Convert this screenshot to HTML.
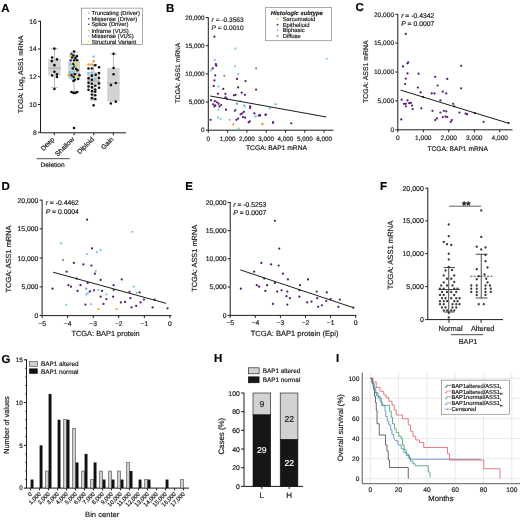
<!DOCTYPE html>
<html><head><meta charset="utf-8"><title>Figure</title>
<style>
html,body{margin:0;padding:0;background:#fff;}
svg{display:block;font-family:"Liberation Sans",Arial,sans-serif;}
text{stroke:#222;stroke-width:0.18px;paint-order:stroke fill;}
text.w{stroke:#fff;}
</style></head><body>
<svg width="520" height="520" viewBox="0 0 520 520" text-rendering="geometricPrecision">
<rect width="520" height="520" fill="#ffffff"/>
<text x="1.20" y="12.00" font-size="11.5" text-anchor="start" font-weight="bold" font-style="normal" fill="#000" >A</text>
<line x1="40.50" y1="20.80" x2="40.50" y2="132.80" stroke="#1c1c1c" stroke-width="1.0" />
<line x1="40.50" y1="132.80" x2="126.00" y2="132.80" stroke="#1c1c1c" stroke-width="1.0" />
<line x1="38.00" y1="21.25" x2="40.50" y2="21.25" stroke="#1c1c1c" stroke-width="1.0" />
<text x="36.80" y="23.65" font-size="6.7" text-anchor="end" font-weight="normal" font-style="normal" fill="#1a1a1a" >16</text>
<line x1="38.00" y1="49.00" x2="40.50" y2="49.00" stroke="#1c1c1c" stroke-width="1.0" />
<text x="36.80" y="51.40" font-size="6.7" text-anchor="end" font-weight="normal" font-style="normal" fill="#1a1a1a" >14</text>
<line x1="38.00" y1="76.75" x2="40.50" y2="76.75" stroke="#1c1c1c" stroke-width="1.0" />
<text x="36.80" y="79.15" font-size="6.7" text-anchor="end" font-weight="normal" font-style="normal" fill="#1a1a1a" >12</text>
<line x1="38.00" y1="104.50" x2="40.50" y2="104.50" stroke="#1c1c1c" stroke-width="1.0" />
<text x="36.80" y="106.90" font-size="6.7" text-anchor="end" font-weight="normal" font-style="normal" fill="#1a1a1a" >10</text>
<line x1="38.00" y1="132.30" x2="40.50" y2="132.30" stroke="#1c1c1c" stroke-width="1.0" />
<text x="36.80" y="134.70" font-size="6.7" text-anchor="end" font-weight="normal" font-style="normal" fill="#1a1a1a" >8</text>
<line x1="54.30" y1="132.80" x2="54.30" y2="135.30" stroke="#1c1c1c" stroke-width="1.0" />
<text x="54.90" y="139.80" font-size="6.8" text-anchor="end" font-weight="normal" font-style="normal" fill="#1a1a1a" transform="rotate(-45 54.90 139.80)" >Deep</text>
<line x1="74.10" y1="132.80" x2="74.10" y2="135.30" stroke="#1c1c1c" stroke-width="1.0" />
<text x="74.70" y="139.80" font-size="6.8" text-anchor="end" font-weight="normal" font-style="normal" fill="#1a1a1a" transform="rotate(-45 74.70 139.80)" >Shallow</text>
<line x1="93.80" y1="132.80" x2="93.80" y2="135.30" stroke="#1c1c1c" stroke-width="1.0" />
<text x="94.40" y="139.80" font-size="6.8" text-anchor="end" font-weight="normal" font-style="normal" fill="#1a1a1a" transform="rotate(-45 94.40 139.80)" >Diploid</text>
<line x1="113.40" y1="132.80" x2="113.40" y2="135.30" stroke="#1c1c1c" stroke-width="1.0" />
<text x="114.00" y="139.80" font-size="6.8" text-anchor="end" font-weight="normal" font-style="normal" fill="#1a1a1a" transform="rotate(-45 114.00 139.80)" >Gain</text>
<text font-size="6.8" fill="#1a1a1a" text-anchor="middle" transform="translate(23.2 74.5) rotate(-90)">TCGA: Log<tspan font-size="4.6" dy="1.6">2</tspan><tspan dy="-1.6"> ASS1 mRNA</tspan></text>
<line x1="36.60" y1="158.70" x2="69.80" y2="158.70" stroke="#1c1c1c" stroke-width="0.8" />
<text x="52.60" y="167.20" font-size="6.6" text-anchor="middle" font-weight="normal" font-style="normal" fill="#1a1a1a" >Deletion</text>
<line x1="54.50" y1="48.70" x2="54.50" y2="87.60" stroke="#8c8c8c" stroke-width="0.6" />
<line x1="51.00" y1="48.70" x2="58.00" y2="48.70" stroke="#8c8c8c" stroke-width="0.6" />
<line x1="51.00" y1="87.60" x2="58.00" y2="87.60" stroke="#8c8c8c" stroke-width="0.6" />
<rect x="48.20" y="59.00" width="12.60" height="16.50" fill="#d3d3d3" stroke="none" stroke-width="0.5"/>
<line x1="48.20" y1="68.20" x2="60.80" y2="68.20" stroke="#8c8c8c" stroke-width="0.6" />
<line x1="74.10" y1="52.00" x2="74.10" y2="92.00" stroke="#8c8c8c" stroke-width="0.6" />
<line x1="70.60" y1="52.00" x2="77.60" y2="52.00" stroke="#8c8c8c" stroke-width="0.6" />
<line x1="70.60" y1="92.00" x2="77.60" y2="92.00" stroke="#8c8c8c" stroke-width="0.6" />
<rect x="68.20" y="61.30" width="11.80" height="17.70" fill="#d3d3d3" stroke="none" stroke-width="0.5"/>
<line x1="68.20" y1="73.50" x2="80.00" y2="73.50" stroke="#8c8c8c" stroke-width="0.6" />
<line x1="93.60" y1="64.50" x2="93.60" y2="100.00" stroke="#8c8c8c" stroke-width="0.6" />
<line x1="90.10" y1="64.50" x2="97.10" y2="64.50" stroke="#8c8c8c" stroke-width="0.6" />
<line x1="90.10" y1="100.00" x2="97.10" y2="100.00" stroke="#8c8c8c" stroke-width="0.6" />
<rect x="87.40" y="72.00" width="12.40" height="13.80" fill="#d3d3d3" stroke="none" stroke-width="0.5"/>
<line x1="87.40" y1="81.10" x2="99.80" y2="81.10" stroke="#8c8c8c" stroke-width="0.6" />
<line x1="113.40" y1="53.90" x2="113.40" y2="101.20" stroke="#8c8c8c" stroke-width="0.6" />
<line x1="109.90" y1="53.90" x2="116.90" y2="53.90" stroke="#8c8c8c" stroke-width="0.6" />
<line x1="109.90" y1="101.20" x2="116.90" y2="101.20" stroke="#8c8c8c" stroke-width="0.6" />
<rect x="107.15" y="68.00" width="12.50" height="33.20" fill="#d3d3d3" stroke="none" stroke-width="0.5"/>
<line x1="107.15" y1="83.10" x2="119.65" y2="83.10" stroke="#8c8c8c" stroke-width="0.6" />
<circle cx="54.42" cy="48.65" r="1.3" fill="#111"/>
<circle cx="52.11" cy="57.54" r="1.3" fill="#111"/>
<circle cx="56.96" cy="59.38" r="1.3" fill="#111"/>
<circle cx="51.88" cy="61.11" r="1.3" fill="#111"/>
<circle cx="54.42" cy="65.15" r="1.3" fill="#111"/>
<circle cx="54.42" cy="71.73" r="1.3" fill="#111"/>
<circle cx="56.96" cy="74.38" r="1.3" fill="#111"/>
<circle cx="52.11" cy="75.54" r="1.3" fill="#111"/>
<circle cx="56.96" cy="76.92" r="1.3" fill="#111"/>
<circle cx="54.42" cy="89.04" r="1.3" fill="#111"/>
<circle cx="74.13" cy="51.44" r="1.3" fill="#111"/>
<circle cx="71.44" cy="54.13" r="1.3" fill="#2a3a8a"/>
<circle cx="73.46" cy="55.48" r="1.3" fill="#111"/>
<circle cx="76.82" cy="56.15" r="1.3" fill="#111"/>
<circle cx="70.09" cy="55.88" r="1.3" fill="#e8dc50"/>
<circle cx="72.11" cy="57.50" r="1.3" fill="#111"/>
<circle cx="75.48" cy="58.17" r="1.3" fill="#111"/>
<circle cx="70.77" cy="60.19" r="1.3" fill="#2a3a8a"/>
<circle cx="74.13" cy="60.19" r="1.3" fill="#111"/>
<circle cx="77.23" cy="60.19" r="1.3" fill="#111"/>
<circle cx="73.46" cy="63.96" r="1.3" fill="#111"/>
<circle cx="75.48" cy="62.88" r="1.3" fill="#e8dc50"/>
<circle cx="76.82" cy="65.30" r="1.3" fill="#e8dc50"/>
<circle cx="70.50" cy="64.23" r="1.3" fill="#78c8e8"/>
<circle cx="74.13" cy="66.65" r="1.3" fill="#2a7a3a"/>
<circle cx="72.79" cy="68.53" r="1.3" fill="#111"/>
<circle cx="76.15" cy="68.94" r="1.3" fill="#111"/>
<circle cx="70.09" cy="72.30" r="1.3" fill="#78c8e8"/>
<circle cx="73.46" cy="71.90" r="1.3" fill="#78c8e8"/>
<circle cx="77.50" cy="70.28" r="1.3" fill="#111"/>
<circle cx="71.44" cy="75.26" r="1.3" fill="#111"/>
<circle cx="74.80" cy="74.32" r="1.3" fill="#111"/>
<circle cx="79.52" cy="75.26" r="1.3" fill="#111"/>
<circle cx="69.15" cy="75.26" r="1.3" fill="#f09a2a"/>
<circle cx="76.82" cy="77.01" r="1.3" fill="#e8dc50"/>
<circle cx="73.46" cy="77.01" r="1.3" fill="#111"/>
<circle cx="78.17" cy="79.03" r="1.3" fill="#111"/>
<circle cx="74.80" cy="79.70" r="1.3" fill="#111"/>
<circle cx="71.84" cy="78.36" r="1.3" fill="#78c8e8"/>
<circle cx="73.46" cy="81.05" r="1.3" fill="#111"/>
<circle cx="71.44" cy="91.95" r="1.3" fill="#111"/>
<circle cx="73.46" cy="92.89" r="1.3" fill="#111"/>
<circle cx="75.48" cy="92.89" r="1.3" fill="#111"/>
<circle cx="77.23" cy="91.95" r="1.3" fill="#111"/>
<circle cx="74.00" cy="128.00" r="1.3" fill="#111"/>
<circle cx="93.65" cy="56.82" r="1.3" fill="#78c8e8"/>
<circle cx="93.65" cy="61.27" r="1.3" fill="#f09a2a"/>
<circle cx="88.53" cy="64.50" r="1.3" fill="#f09a2a"/>
<circle cx="91.90" cy="64.50" r="1.3" fill="#f09a2a"/>
<circle cx="95.26" cy="65.30" r="1.3" fill="#111"/>
<circle cx="99.03" cy="67.19" r="1.3" fill="#111"/>
<circle cx="88.53" cy="68.53" r="1.3" fill="#111"/>
<circle cx="91.90" cy="68.53" r="1.3" fill="#111"/>
<circle cx="91.90" cy="72.57" r="1.3" fill="#78c8e8"/>
<circle cx="88.26" cy="73.38" r="1.3" fill="#78c8e8"/>
<circle cx="99.03" cy="72.97" r="1.3" fill="#111"/>
<circle cx="95.67" cy="74.72" r="1.3" fill="#111"/>
<circle cx="91.90" cy="75.67" r="1.3" fill="#111"/>
<circle cx="88.53" cy="78.36" r="1.3" fill="#111"/>
<circle cx="95.26" cy="78.76" r="1.3" fill="#78c8e8"/>
<circle cx="99.03" cy="77.95" r="1.3" fill="#111"/>
<circle cx="91.90" cy="79.70" r="1.3" fill="#111"/>
<circle cx="88.53" cy="82.80" r="1.3" fill="#111"/>
<circle cx="99.03" cy="83.34" r="1.3" fill="#111"/>
<circle cx="91.90" cy="83.74" r="1.3" fill="#111"/>
<circle cx="95.26" cy="85.76" r="1.3" fill="#111"/>
<circle cx="88.53" cy="86.43" r="1.3" fill="#111"/>
<circle cx="99.03" cy="87.78" r="1.3" fill="#111"/>
<circle cx="91.90" cy="87.38" r="1.3" fill="#111"/>
<circle cx="95.26" cy="89.53" r="1.3" fill="#111"/>
<circle cx="88.53" cy="89.80" r="1.3" fill="#111"/>
<circle cx="91.90" cy="91.14" r="1.3" fill="#111"/>
<circle cx="95.26" cy="91.82" r="1.3" fill="#111"/>
<circle cx="91.90" cy="94.51" r="1.3" fill="#111"/>
<circle cx="95.26" cy="95.18" r="1.3" fill="#111"/>
<circle cx="91.90" cy="98.14" r="1.3" fill="#111"/>
<circle cx="95.26" cy="98.95" r="1.3" fill="#111"/>
<circle cx="93.65" cy="105.28" r="1.3" fill="#111"/>
<circle cx="113.57" cy="53.86" r="1.3" fill="#111"/>
<circle cx="113.57" cy="67.99" r="1.3" fill="#111"/>
<circle cx="113.57" cy="74.32" r="1.3" fill="#111"/>
<circle cx="115.85" cy="83.07" r="1.3" fill="#111"/>
<circle cx="110.87" cy="85.09" r="1.3" fill="#111"/>
<circle cx="115.85" cy="101.64" r="1.3" fill="#111"/>
<circle cx="110.87" cy="103.53" r="1.3" fill="#111"/>
<rect x="81.40" y="8.10" width="61.20" height="36.40" fill="#fff" stroke="#555" stroke-width="0.5"/>
<circle cx="88.80" cy="13.10" r="0.8" fill="#78c8e8"/>
<text x="91.40" y="15.20" font-size="5.85" text-anchor="start" font-weight="normal" font-style="normal" fill="#1a1a1a" >Truncating (Driver)</text>
<circle cx="88.80" cy="18.90" r="0.8" fill="#2a7a3a"/>
<text x="91.40" y="21.00" font-size="5.85" text-anchor="start" font-weight="normal" font-style="normal" fill="#1a1a1a" >Missense (Driver)</text>
<circle cx="88.80" cy="24.30" r="0.8" fill="#2a3a8a"/>
<text x="91.40" y="26.40" font-size="5.85" text-anchor="start" font-weight="normal" font-style="normal" fill="#1a1a1a" >Splice (Driver)</text>
<circle cx="88.80" cy="30.60" r="0.8" fill="#f09a2a"/>
<text x="91.40" y="32.70" font-size="5.85" text-anchor="start" font-weight="normal" font-style="normal" fill="#1a1a1a" >Inframe (VUS)</text>
<circle cx="88.80" cy="36.00" r="0.8" fill="#b9a0d8"/>
<text x="91.40" y="38.10" font-size="5.85" text-anchor="start" font-weight="normal" font-style="normal" fill="#1a1a1a" >Missense (VUS)</text>
<circle cx="88.80" cy="41.40" r="0.8" fill="#e8d84a"/>
<text x="91.40" y="43.50" font-size="5.85" text-anchor="start" font-weight="normal" font-style="normal" fill="#1a1a1a" >Structural Variant</text>
<text x="166.00" y="12.00" font-size="11.5" text-anchor="start" font-weight="bold" font-style="normal" fill="#000" >B</text>
<line x1="208.30" y1="17.20" x2="208.30" y2="130.20" stroke="#1c1c1c" stroke-width="1.0" />
<line x1="208.30" y1="130.20" x2="333.50" y2="130.20" stroke="#1c1c1c" stroke-width="1.0" />
<line x1="205.80" y1="17.50" x2="208.30" y2="17.50" stroke="#1c1c1c" stroke-width="1.0" />
<text x="204.60" y="19.77" font-size="6.3" text-anchor="end" font-weight="normal" font-style="normal" fill="#1a1a1a" >20,000</text>
<line x1="205.80" y1="45.70" x2="208.30" y2="45.70" stroke="#1c1c1c" stroke-width="1.0" />
<text x="204.60" y="47.97" font-size="6.3" text-anchor="end" font-weight="normal" font-style="normal" fill="#1a1a1a" >15,000</text>
<line x1="205.80" y1="73.90" x2="208.30" y2="73.90" stroke="#1c1c1c" stroke-width="1.0" />
<text x="204.60" y="76.17" font-size="6.3" text-anchor="end" font-weight="normal" font-style="normal" fill="#1a1a1a" >10,000</text>
<line x1="205.80" y1="102.00" x2="208.30" y2="102.00" stroke="#1c1c1c" stroke-width="1.0" />
<text x="204.60" y="104.27" font-size="6.3" text-anchor="end" font-weight="normal" font-style="normal" fill="#1a1a1a" >5,000</text>
<line x1="205.80" y1="130.20" x2="208.30" y2="130.20" stroke="#1c1c1c" stroke-width="1.0" />
<text x="204.60" y="132.47" font-size="6.3" text-anchor="end" font-weight="normal" font-style="normal" fill="#1a1a1a" >0</text>
<line x1="208.30" y1="130.20" x2="208.30" y2="132.70" stroke="#1c1c1c" stroke-width="1.0" />
<text x="208.30" y="140.80" font-size="6.3" text-anchor="middle" font-weight="normal" font-style="normal" fill="#1a1a1a" >0</text>
<line x1="227.60" y1="130.20" x2="227.60" y2="132.70" stroke="#1c1c1c" stroke-width="1.0" />
<text x="227.60" y="140.80" font-size="6.3" text-anchor="middle" font-weight="normal" font-style="normal" fill="#1a1a1a" >1,000</text>
<line x1="246.90" y1="130.20" x2="246.90" y2="132.70" stroke="#1c1c1c" stroke-width="1.0" />
<text x="246.90" y="140.80" font-size="6.3" text-anchor="middle" font-weight="normal" font-style="normal" fill="#1a1a1a" >2,000</text>
<line x1="266.20" y1="130.20" x2="266.20" y2="132.70" stroke="#1c1c1c" stroke-width="1.0" />
<text x="266.20" y="140.80" font-size="6.3" text-anchor="middle" font-weight="normal" font-style="normal" fill="#1a1a1a" >3,000</text>
<line x1="285.50" y1="130.20" x2="285.50" y2="132.70" stroke="#1c1c1c" stroke-width="1.0" />
<text x="285.50" y="140.80" font-size="6.3" text-anchor="middle" font-weight="normal" font-style="normal" fill="#1a1a1a" >4,000</text>
<line x1="304.80" y1="130.20" x2="304.80" y2="132.70" stroke="#1c1c1c" stroke-width="1.0" />
<text x="304.80" y="140.80" font-size="6.3" text-anchor="middle" font-weight="normal" font-style="normal" fill="#1a1a1a" >5,000</text>
<line x1="324.10" y1="130.20" x2="324.10" y2="132.70" stroke="#1c1c1c" stroke-width="1.0" />
<text x="324.10" y="140.80" font-size="6.3" text-anchor="middle" font-weight="normal" font-style="normal" fill="#1a1a1a" >6,000</text>
<text x="276.50" y="150.40" font-size="6.7" text-anchor="middle" font-weight="normal" font-style="normal" fill="#1a1a1a" >TCGA: BAP1 mRNA</text>
<text font-size="6.7" fill="#1a1a1a" text-anchor="middle" transform="translate(180.4 73) rotate(-90)">TCGA: ASS1 mRNA</text>
<text x="211.6" y="22" font-size="6.6" fill="#1a1a1a"><tspan font-style="italic">r</tspan> = -0.3563</text>
<text x="211.6" y="30.3" font-size="6.6" fill="#1a1a1a"><tspan font-style="italic">P</tspan> = 0.0010</text>
<circle cx="235.34" cy="48.70" r="1.12" fill="#78c8e8"/>
<circle cx="214.81" cy="59.92" r="1.12" fill="#78c8e8"/>
<circle cx="211.22" cy="70.50" r="1.12" fill="#78c8e8"/>
<circle cx="234.92" cy="66.27" r="1.12" fill="#78c8e8"/>
<circle cx="238.10" cy="74.10" r="1.12" fill="#78c8e8"/>
<circle cx="218.62" cy="86.38" r="1.12" fill="#78c8e8"/>
<circle cx="275.56" cy="104.37" r="1.12" fill="#78c8e8"/>
<circle cx="243.81" cy="105.42" r="1.12" fill="#78c8e8"/>
<circle cx="244.87" cy="106.48" r="1.12" fill="#78c8e8"/>
<circle cx="269.84" cy="108.60" r="1.12" fill="#78c8e8"/>
<circle cx="218.62" cy="109.66" r="1.12" fill="#78c8e8"/>
<circle cx="235.98" cy="109.66" r="1.12" fill="#78c8e8"/>
<circle cx="217.99" cy="117.49" r="1.12" fill="#78c8e8"/>
<circle cx="220.53" cy="118.76" r="1.12" fill="#78c8e8"/>
<circle cx="229.63" cy="119.81" r="1.12" fill="#78c8e8"/>
<circle cx="255.45" cy="116.43" r="1.12" fill="#78c8e8"/>
<circle cx="238.52" cy="128.70" r="1.12" fill="#78c8e8"/>
<circle cx="240.21" cy="101.19" r="1.12" fill="#78c8e8"/>
<circle cx="256.08" cy="68.39" r="1.12" fill="#8a8a8a"/>
<circle cx="237.04" cy="103.73" r="1.12" fill="#8a8a8a"/>
<circle cx="224.34" cy="75.79" r="1.12" fill="#8a8a8a"/>
<circle cx="233.23" cy="124.47" r="1.12" fill="#f09a2a"/>
<circle cx="262.43" cy="124.05" r="1.12" fill="#f09a2a"/>
<circle cx="214.39" cy="36.64" r="1.12" fill="#581a70"/>
<circle cx="215.87" cy="64.15" r="1.12" fill="#581a70"/>
<circle cx="216.30" cy="65.63" r="1.12" fill="#581a70"/>
<circle cx="212.70" cy="68.39" r="1.12" fill="#581a70"/>
<circle cx="215.24" cy="75.37" r="1.12" fill="#581a70"/>
<circle cx="214.39" cy="80.45" r="1.12" fill="#581a70"/>
<circle cx="213.76" cy="85.95" r="1.12" fill="#581a70"/>
<circle cx="237.04" cy="78.97" r="1.12" fill="#581a70"/>
<circle cx="245.50" cy="81.08" r="1.12" fill="#581a70"/>
<circle cx="238.10" cy="87.43" r="1.12" fill="#581a70"/>
<circle cx="223.28" cy="88.92" r="1.12" fill="#581a70"/>
<circle cx="256.08" cy="89.55" r="1.12" fill="#581a70"/>
<circle cx="217.99" cy="93.78" r="1.12" fill="#581a70"/>
<circle cx="225.40" cy="93.78" r="1.12" fill="#581a70"/>
<circle cx="241.69" cy="92.72" r="1.12" fill="#581a70"/>
<circle cx="233.86" cy="95.26" r="1.12" fill="#581a70"/>
<circle cx="235.56" cy="94.84" r="1.12" fill="#581a70"/>
<circle cx="244.87" cy="94.84" r="1.12" fill="#581a70"/>
<circle cx="226.88" cy="98.65" r="1.12" fill="#581a70"/>
<circle cx="225.40" cy="97.38" r="1.12" fill="#581a70"/>
<circle cx="211.01" cy="100.13" r="1.12" fill="#581a70"/>
<circle cx="214.81" cy="101.19" r="1.12" fill="#581a70"/>
<circle cx="216.93" cy="102.25" r="1.12" fill="#581a70"/>
<circle cx="218.62" cy="103.73" r="1.12" fill="#581a70"/>
<circle cx="213.12" cy="104.37" r="1.12" fill="#581a70"/>
<circle cx="215.24" cy="105.42" r="1.12" fill="#581a70"/>
<circle cx="214.39" cy="106.48" r="1.12" fill="#581a70"/>
<circle cx="221.16" cy="105.00" r="1.12" fill="#581a70"/>
<circle cx="219.47" cy="106.48" r="1.12" fill="#581a70"/>
<circle cx="250.16" cy="106.48" r="1.12" fill="#581a70"/>
<circle cx="250.16" cy="107.96" r="1.12" fill="#581a70"/>
<circle cx="226.03" cy="109.66" r="1.12" fill="#581a70"/>
<circle cx="234.92" cy="110.71" r="1.12" fill="#581a70"/>
<circle cx="243.81" cy="111.77" r="1.12" fill="#581a70"/>
<circle cx="242.33" cy="113.47" r="1.12" fill="#581a70"/>
<circle cx="240.63" cy="114.31" r="1.12" fill="#581a70"/>
<circle cx="254.39" cy="113.47" r="1.12" fill="#581a70"/>
<circle cx="265.61" cy="114.95" r="1.12" fill="#581a70"/>
<circle cx="259.89" cy="115.58" r="1.12" fill="#581a70"/>
<circle cx="242.96" cy="117.06" r="1.12" fill="#581a70"/>
<circle cx="245.08" cy="117.70" r="1.12" fill="#581a70"/>
<circle cx="238.10" cy="118.54" r="1.12" fill="#581a70"/>
<circle cx="236.40" cy="119.81" r="1.12" fill="#581a70"/>
<circle cx="210.58" cy="119.81" r="1.12" fill="#581a70"/>
<circle cx="249.74" cy="121.30" r="1.12" fill="#581a70"/>
<circle cx="248.68" cy="122.35" r="1.12" fill="#581a70"/>
<circle cx="273.02" cy="122.78" r="1.12" fill="#581a70"/>
<circle cx="326.75" cy="58.75" r="1.12" fill="#78c8e8"/>
<circle cx="291.25" cy="123.25" r="1.12" fill="#581a70"/>
<circle cx="273.00" cy="122.00" r="1.12" fill="#581a70"/>
<circle cx="262.50" cy="123.75" r="1.12" fill="#f09a2a"/>
<circle cx="265.75" cy="114.50" r="1.12" fill="#581a70"/>
<circle cx="260.00" cy="115.00" r="1.12" fill="#581a70"/>
<circle cx="258.75" cy="115.50" r="1.12" fill="#581a70"/>
<circle cx="275.50" cy="104.25" r="1.12" fill="#78c8e8"/>
<circle cx="270.00" cy="108.00" r="1.12" fill="#78c8e8"/>
<circle cx="255.75" cy="116.25" r="1.12" fill="#78c8e8"/>
<line x1="210.20" y1="96.00" x2="326.25" y2="117.00" stroke="#1c1c1c" stroke-width="1.0" />
<rect x="265.80" y="7.70" width="65.90" height="33.10" fill="#fff" stroke="#555" stroke-width="0.5"/>
<text x="270.80" y="15.20" font-size="5.8" text-anchor="start" font-weight="bold" font-style="italic" fill="#1a1a1a" >Histologic subtype</text>
<circle cx="277.50" cy="18.80" r="0.9" fill="#f09a2a"/>
<text x="282.70" y="20.90" font-size="5.8" text-anchor="start" font-weight="normal" font-style="normal" fill="#1a1a1a" >Sarcomatoid</text>
<circle cx="277.50" cy="24.60" r="0.9" fill="#3a1a6a"/>
<text x="282.70" y="26.70" font-size="5.8" text-anchor="start" font-weight="normal" font-style="normal" fill="#1a1a1a" >Epithelioid</text>
<circle cx="277.50" cy="30.20" r="0.9" fill="#78c8e8"/>
<text x="282.70" y="32.30" font-size="5.8" text-anchor="start" font-weight="normal" font-style="normal" fill="#1a1a1a" >Biphasic</text>
<circle cx="277.50" cy="36.00" r="0.9" fill="#8a8a8a"/>
<text x="282.70" y="38.10" font-size="5.8" text-anchor="start" font-weight="normal" font-style="normal" fill="#1a1a1a" >Diffuse</text>
<text x="355.50" y="11.20" font-size="11.5" text-anchor="start" font-weight="bold" font-style="normal" fill="#000" >C</text>
<line x1="397.80" y1="14.00" x2="397.80" y2="129.80" stroke="#1c1c1c" stroke-width="1.0" />
<line x1="397.80" y1="129.80" x2="512.50" y2="129.80" stroke="#1c1c1c" stroke-width="1.0" />
<line x1="395.30" y1="14.25" x2="397.80" y2="14.25" stroke="#1c1c1c" stroke-width="1.0" />
<text x="394.10" y="16.63" font-size="6.6" text-anchor="end" font-weight="normal" font-style="normal" fill="#1a1a1a" >20,000</text>
<line x1="395.30" y1="43.10" x2="397.80" y2="43.10" stroke="#1c1c1c" stroke-width="1.0" />
<text x="394.10" y="45.48" font-size="6.6" text-anchor="end" font-weight="normal" font-style="normal" fill="#1a1a1a" >15,000</text>
<line x1="395.30" y1="72.00" x2="397.80" y2="72.00" stroke="#1c1c1c" stroke-width="1.0" />
<text x="394.10" y="74.38" font-size="6.6" text-anchor="end" font-weight="normal" font-style="normal" fill="#1a1a1a" >10,000</text>
<line x1="395.30" y1="100.90" x2="397.80" y2="100.90" stroke="#1c1c1c" stroke-width="1.0" />
<text x="394.10" y="103.28" font-size="6.6" text-anchor="end" font-weight="normal" font-style="normal" fill="#1a1a1a" >5,000</text>
<line x1="395.30" y1="129.80" x2="397.80" y2="129.80" stroke="#1c1c1c" stroke-width="1.0" />
<text x="394.10" y="132.18" font-size="6.6" text-anchor="end" font-weight="normal" font-style="normal" fill="#1a1a1a" >0</text>
<line x1="397.80" y1="129.80" x2="397.80" y2="132.30" stroke="#1c1c1c" stroke-width="1.0" />
<text x="397.80" y="139.80" font-size="6.6" text-anchor="middle" font-weight="normal" font-style="normal" fill="#1a1a1a" >0</text>
<line x1="423.30" y1="129.80" x2="423.30" y2="132.30" stroke="#1c1c1c" stroke-width="1.0" />
<text x="423.30" y="139.80" font-size="6.6" text-anchor="middle" font-weight="normal" font-style="normal" fill="#1a1a1a" >1,000</text>
<line x1="448.80" y1="129.80" x2="448.80" y2="132.30" stroke="#1c1c1c" stroke-width="1.0" />
<text x="448.80" y="139.80" font-size="6.6" text-anchor="middle" font-weight="normal" font-style="normal" fill="#1a1a1a" >2,000</text>
<line x1="474.30" y1="129.80" x2="474.30" y2="132.30" stroke="#1c1c1c" stroke-width="1.0" />
<text x="474.30" y="139.80" font-size="6.6" text-anchor="middle" font-weight="normal" font-style="normal" fill="#1a1a1a" >3,000</text>
<line x1="499.80" y1="129.80" x2="499.80" y2="132.30" stroke="#1c1c1c" stroke-width="1.0" />
<text x="499.80" y="139.80" font-size="6.6" text-anchor="middle" font-weight="normal" font-style="normal" fill="#1a1a1a" >4,000</text>
<text x="457.70" y="150.80" font-size="6.65" text-anchor="middle" font-weight="normal" font-style="normal" fill="#1a1a1a" >TCGA: BAP1 mRNA</text>
<text font-size="6.9" fill="#1a1a1a" text-anchor="middle" transform="translate(368.4 71.7) rotate(-90)">TCGA: ASS1 mRNA</text>
<text x="401.2" y="18.1" font-size="6.8" fill="#1a1a1a"><tspan font-style="italic">r</tspan> = -0.4342</text>
<text x="401.2" y="26.400000000000002" font-size="6.8" fill="#1a1a1a"><tspan font-style="italic">P</tspan> = 0.0007</text>
<circle cx="405.77" cy="33.92" r="1.12" fill="#581a70"/>
<circle cx="408.19" cy="62.31" r="1.12" fill="#581a70"/>
<circle cx="407.50" cy="63.34" r="1.12" fill="#581a70"/>
<circle cx="403.00" cy="66.46" r="1.12" fill="#581a70"/>
<circle cx="407.50" cy="73.38" r="1.12" fill="#581a70"/>
<circle cx="405.77" cy="78.57" r="1.12" fill="#581a70"/>
<circle cx="405.07" cy="84.11" r="1.12" fill="#581a70"/>
<circle cx="418.57" cy="73.73" r="1.12" fill="#581a70"/>
<circle cx="461.15" cy="65.77" r="1.12" fill="#581a70"/>
<circle cx="435.19" cy="76.84" r="1.12" fill="#581a70"/>
<circle cx="447.30" cy="78.92" r="1.12" fill="#581a70"/>
<circle cx="461.15" cy="88.27" r="1.12" fill="#581a70"/>
<circle cx="417.88" cy="87.57" r="1.12" fill="#581a70"/>
<circle cx="420.65" cy="92.42" r="1.12" fill="#581a70"/>
<circle cx="437.61" cy="85.50" r="1.12" fill="#581a70"/>
<circle cx="442.80" cy="91.73" r="1.12" fill="#581a70"/>
<circle cx="446.27" cy="93.46" r="1.12" fill="#581a70"/>
<circle cx="431.73" cy="93.46" r="1.12" fill="#581a70"/>
<circle cx="434.50" cy="93.46" r="1.12" fill="#581a70"/>
<circle cx="407.50" cy="100.38" r="1.12" fill="#581a70"/>
<circle cx="401.61" cy="99.69" r="1.12" fill="#581a70"/>
<circle cx="423.07" cy="96.92" r="1.12" fill="#581a70"/>
<circle cx="440.38" cy="100.38" r="1.12" fill="#581a70"/>
<circle cx="409.23" cy="103.15" r="1.12" fill="#581a70"/>
<circle cx="405.77" cy="103.84" r="1.12" fill="#581a70"/>
<circle cx="410.96" cy="102.80" r="1.12" fill="#581a70"/>
<circle cx="404.04" cy="103.84" r="1.12" fill="#581a70"/>
<circle cx="405.77" cy="106.27" r="1.12" fill="#581a70"/>
<circle cx="412.00" cy="105.57" r="1.12" fill="#581a70"/>
<circle cx="412.69" cy="109.03" r="1.12" fill="#581a70"/>
<circle cx="421.34" cy="108.34" r="1.12" fill="#581a70"/>
<circle cx="453.19" cy="103.84" r="1.12" fill="#581a70"/>
<circle cx="454.23" cy="106.27" r="1.12" fill="#581a70"/>
<circle cx="443.84" cy="110.76" r="1.12" fill="#581a70"/>
<circle cx="446.27" cy="111.46" r="1.12" fill="#581a70"/>
<circle cx="440.38" cy="112.50" r="1.12" fill="#581a70"/>
<circle cx="432.42" cy="110.76" r="1.12" fill="#581a70"/>
<circle cx="459.42" cy="112.50" r="1.12" fill="#581a70"/>
<circle cx="465.65" cy="113.53" r="1.12" fill="#581a70"/>
<circle cx="467.03" cy="114.23" r="1.12" fill="#581a70"/>
<circle cx="474.99" cy="113.19" r="1.12" fill="#581a70"/>
<circle cx="445.57" cy="116.65" r="1.12" fill="#581a70"/>
<circle cx="447.30" cy="117.00" r="1.12" fill="#581a70"/>
<circle cx="442.80" cy="117.00" r="1.12" fill="#581a70"/>
<circle cx="436.92" cy="118.38" r="1.12" fill="#581a70"/>
<circle cx="435.19" cy="120.11" r="1.12" fill="#581a70"/>
<circle cx="451.80" cy="120.11" r="1.12" fill="#581a70"/>
<circle cx="450.76" cy="121.84" r="1.12" fill="#581a70"/>
<circle cx="483.65" cy="121.84" r="1.12" fill="#581a70"/>
<circle cx="401.27" cy="119.42" r="1.12" fill="#581a70"/>
<circle cx="508.57" cy="122.88" r="1.12" fill="#581a70"/>
<line x1="400.50" y1="90.10" x2="509.00" y2="123.40" stroke="#1c1c1c" stroke-width="1.0" />
<text x="1.50" y="190.30" font-size="11.5" text-anchor="start" font-weight="bold" font-style="normal" fill="#000" >D</text>
<line x1="42.10" y1="199.80" x2="42.10" y2="315.60" stroke="#1c1c1c" stroke-width="1.0" />
<line x1="42.10" y1="315.60" x2="171.50" y2="315.60" stroke="#1c1c1c" stroke-width="1.0" />
<line x1="39.60" y1="200.10" x2="42.10" y2="200.10" stroke="#1c1c1c" stroke-width="1.0" />
<text x="38.40" y="202.55" font-size="6.8" text-anchor="end" font-weight="normal" font-style="normal" fill="#1a1a1a" >20,000</text>
<line x1="39.60" y1="228.90" x2="42.10" y2="228.90" stroke="#1c1c1c" stroke-width="1.0" />
<text x="38.40" y="231.35" font-size="6.8" text-anchor="end" font-weight="normal" font-style="normal" fill="#1a1a1a" >15,000</text>
<line x1="39.60" y1="258.10" x2="42.10" y2="258.10" stroke="#1c1c1c" stroke-width="1.0" />
<text x="38.40" y="260.55" font-size="6.8" text-anchor="end" font-weight="normal" font-style="normal" fill="#1a1a1a" >10,000</text>
<line x1="39.60" y1="286.90" x2="42.10" y2="286.90" stroke="#1c1c1c" stroke-width="1.0" />
<text x="38.40" y="289.35" font-size="6.8" text-anchor="end" font-weight="normal" font-style="normal" fill="#1a1a1a" >5,000</text>
<line x1="39.60" y1="315.50" x2="42.10" y2="315.50" stroke="#1c1c1c" stroke-width="1.0" />
<text x="38.40" y="317.95" font-size="6.8" text-anchor="end" font-weight="normal" font-style="normal" fill="#1a1a1a" >0</text>
<line x1="42.10" y1="315.60" x2="42.10" y2="318.10" stroke="#1c1c1c" stroke-width="1.0" />
<text x="42.10" y="325.80" font-size="6.8" text-anchor="middle" font-weight="normal" font-style="normal" fill="#1a1a1a" >−5</text>
<line x1="67.66" y1="315.60" x2="67.66" y2="318.10" stroke="#1c1c1c" stroke-width="1.0" />
<text x="67.66" y="325.80" font-size="6.8" text-anchor="middle" font-weight="normal" font-style="normal" fill="#1a1a1a" >−4</text>
<line x1="93.22" y1="315.60" x2="93.22" y2="318.10" stroke="#1c1c1c" stroke-width="1.0" />
<text x="93.22" y="325.80" font-size="6.8" text-anchor="middle" font-weight="normal" font-style="normal" fill="#1a1a1a" >−3</text>
<line x1="118.78" y1="315.60" x2="118.78" y2="318.10" stroke="#1c1c1c" stroke-width="1.0" />
<text x="118.78" y="325.80" font-size="6.8" text-anchor="middle" font-weight="normal" font-style="normal" fill="#1a1a1a" >−2</text>
<line x1="144.34" y1="315.60" x2="144.34" y2="318.10" stroke="#1c1c1c" stroke-width="1.0" />
<text x="144.34" y="325.80" font-size="6.8" text-anchor="middle" font-weight="normal" font-style="normal" fill="#1a1a1a" >−1</text>
<line x1="169.90" y1="315.60" x2="169.90" y2="318.10" stroke="#1c1c1c" stroke-width="1.0" />
<text x="169.90" y="325.80" font-size="6.8" text-anchor="middle" font-weight="normal" font-style="normal" fill="#1a1a1a" >0</text>
<text x="105.60" y="336.10" font-size="7.4" text-anchor="middle" font-weight="normal" font-style="normal" fill="#1a1a1a" >TCGA: BAP1 protein</text>
<text font-size="7.4" fill="#1a1a1a" text-anchor="middle" transform="translate(11.4 259) rotate(-90)">TCGA: ASS1 mRNA</text>
<text x="45.7" y="205.3" font-size="6.8" fill="#1a1a1a"><tspan font-style="italic">r</tspan> = -0.4462</text>
<text x="45.7" y="213.60000000000002" font-size="6.8" fill="#1a1a1a"><tspan font-style="italic">P</tspan> = 0.0004</text>
<circle cx="61.15" cy="243.36" r="1.12" fill="#78c8e8"/>
<circle cx="132.39" cy="231.82" r="1.12" fill="#78c8e8"/>
<circle cx="87.11" cy="254.03" r="1.12" fill="#78c8e8"/>
<circle cx="100.67" cy="249.99" r="1.12" fill="#78c8e8"/>
<circle cx="96.92" cy="252.01" r="1.12" fill="#78c8e8"/>
<circle cx="95.76" cy="270.76" r="1.12" fill="#78c8e8"/>
<circle cx="98.36" cy="290.09" r="1.12" fill="#78c8e8"/>
<circle cx="133.84" cy="286.63" r="1.12" fill="#78c8e8"/>
<circle cx="136.72" cy="292.97" r="1.12" fill="#78c8e8"/>
<circle cx="90.57" cy="290.95" r="1.12" fill="#78c8e8"/>
<circle cx="86.24" cy="294.41" r="1.12" fill="#78c8e8"/>
<circle cx="87.69" cy="293.26" r="1.12" fill="#78c8e8"/>
<circle cx="106.43" cy="294.41" r="1.12" fill="#78c8e8"/>
<circle cx="66.05" cy="304.80" r="1.12" fill="#78c8e8"/>
<circle cx="91.15" cy="304.22" r="1.12" fill="#78c8e8"/>
<circle cx="63.17" cy="260.09" r="1.12" fill="#8a8a8a"/>
<circle cx="86.24" cy="288.64" r="1.12" fill="#8a8a8a"/>
<circle cx="98.36" cy="309.12" r="1.12" fill="#f09a2a"/>
<circle cx="116.53" cy="309.12" r="1.12" fill="#f09a2a"/>
<circle cx="87.11" cy="219.71" r="1.12" fill="#581a70"/>
<circle cx="92.01" cy="248.26" r="1.12" fill="#581a70"/>
<circle cx="83.36" cy="264.42" r="1.12" fill="#581a70"/>
<circle cx="91.44" cy="265.57" r="1.12" fill="#581a70"/>
<circle cx="73.84" cy="262.97" r="1.12" fill="#581a70"/>
<circle cx="66.63" cy="271.63" r="1.12" fill="#581a70"/>
<circle cx="94.90" cy="273.65" r="1.12" fill="#581a70"/>
<circle cx="100.67" cy="279.99" r="1.12" fill="#581a70"/>
<circle cx="121.72" cy="279.41" r="1.12" fill="#581a70"/>
<circle cx="76.73" cy="278.55" r="1.12" fill="#581a70"/>
<circle cx="52.50" cy="288.64" r="1.12" fill="#581a70"/>
<circle cx="68.36" cy="285.18" r="1.12" fill="#581a70"/>
<circle cx="70.96" cy="286.63" r="1.12" fill="#581a70"/>
<circle cx="80.48" cy="285.18" r="1.12" fill="#581a70"/>
<circle cx="87.69" cy="282.88" r="1.12" fill="#581a70"/>
<circle cx="77.59" cy="290.95" r="1.12" fill="#581a70"/>
<circle cx="94.03" cy="290.37" r="1.12" fill="#581a70"/>
<circle cx="89.71" cy="291.53" r="1.12" fill="#581a70"/>
<circle cx="102.11" cy="290.95" r="1.12" fill="#581a70"/>
<circle cx="100.67" cy="296.72" r="1.12" fill="#581a70"/>
<circle cx="113.65" cy="285.18" r="1.12" fill="#581a70"/>
<circle cx="113.65" cy="290.09" r="1.12" fill="#581a70"/>
<circle cx="113.07" cy="296.72" r="1.12" fill="#581a70"/>
<circle cx="129.51" cy="291.82" r="1.12" fill="#581a70"/>
<circle cx="139.60" cy="292.39" r="1.12" fill="#581a70"/>
<circle cx="130.37" cy="298.16" r="1.12" fill="#581a70"/>
<circle cx="106.43" cy="299.03" r="1.12" fill="#581a70"/>
<circle cx="85.38" cy="304.51" r="1.12" fill="#581a70"/>
<circle cx="103.55" cy="303.93" r="1.12" fill="#581a70"/>
<circle cx="120.86" cy="302.49" r="1.12" fill="#581a70"/>
<circle cx="125.18" cy="301.91" r="1.12" fill="#581a70"/>
<circle cx="143.93" cy="299.60" r="1.12" fill="#581a70"/>
<circle cx="140.47" cy="302.49" r="1.12" fill="#581a70"/>
<circle cx="136.14" cy="305.95" r="1.12" fill="#581a70"/>
<circle cx="131.53" cy="307.39" r="1.12" fill="#581a70"/>
<circle cx="152.58" cy="307.39" r="1.12" fill="#581a70"/>
<circle cx="167.58" cy="308.26" r="1.12" fill="#581a70"/>
<circle cx="154.60" cy="299.60" r="1.12" fill="#581a70"/>
<line x1="53.07" y1="272.20" x2="166.14" y2="303.35" stroke="#1c1c1c" stroke-width="1.0" />
<text x="185.30" y="190.20" font-size="11.5" text-anchor="start" font-weight="bold" font-style="normal" fill="#000" >E</text>
<line x1="230.20" y1="202.00" x2="230.20" y2="315.40" stroke="#1c1c1c" stroke-width="1.0" />
<line x1="230.20" y1="315.40" x2="356.30" y2="315.40" stroke="#1c1c1c" stroke-width="1.0" />
<line x1="227.70" y1="202.40" x2="230.20" y2="202.40" stroke="#1c1c1c" stroke-width="1.0" />
<text x="226.50" y="204.85" font-size="6.8" text-anchor="end" font-weight="normal" font-style="normal" fill="#1a1a1a" >20,000</text>
<line x1="227.70" y1="230.60" x2="230.20" y2="230.60" stroke="#1c1c1c" stroke-width="1.0" />
<text x="226.50" y="233.05" font-size="6.8" text-anchor="end" font-weight="normal" font-style="normal" fill="#1a1a1a" >15,000</text>
<line x1="227.70" y1="258.80" x2="230.20" y2="258.80" stroke="#1c1c1c" stroke-width="1.0" />
<text x="226.50" y="261.25" font-size="6.8" text-anchor="end" font-weight="normal" font-style="normal" fill="#1a1a1a" >10,000</text>
<line x1="227.70" y1="287.00" x2="230.20" y2="287.00" stroke="#1c1c1c" stroke-width="1.0" />
<text x="226.50" y="289.45" font-size="6.8" text-anchor="end" font-weight="normal" font-style="normal" fill="#1a1a1a" >5,000</text>
<line x1="227.70" y1="315.40" x2="230.20" y2="315.40" stroke="#1c1c1c" stroke-width="1.0" />
<text x="226.50" y="317.85" font-size="6.8" text-anchor="end" font-weight="normal" font-style="normal" fill="#1a1a1a" >0</text>
<line x1="230.20" y1="315.40" x2="230.20" y2="317.90" stroke="#1c1c1c" stroke-width="1.0" />
<text x="230.20" y="325.00" font-size="6.8" text-anchor="middle" font-weight="normal" font-style="normal" fill="#1a1a1a" >−5</text>
<line x1="255.30" y1="315.40" x2="255.30" y2="317.90" stroke="#1c1c1c" stroke-width="1.0" />
<text x="255.30" y="325.00" font-size="6.8" text-anchor="middle" font-weight="normal" font-style="normal" fill="#1a1a1a" >−4</text>
<line x1="280.40" y1="315.40" x2="280.40" y2="317.90" stroke="#1c1c1c" stroke-width="1.0" />
<text x="280.40" y="325.00" font-size="6.8" text-anchor="middle" font-weight="normal" font-style="normal" fill="#1a1a1a" >−3</text>
<line x1="305.50" y1="315.40" x2="305.50" y2="317.90" stroke="#1c1c1c" stroke-width="1.0" />
<text x="305.50" y="325.00" font-size="6.8" text-anchor="middle" font-weight="normal" font-style="normal" fill="#1a1a1a" >−2</text>
<line x1="330.60" y1="315.40" x2="330.60" y2="317.90" stroke="#1c1c1c" stroke-width="1.0" />
<text x="330.60" y="325.00" font-size="6.8" text-anchor="middle" font-weight="normal" font-style="normal" fill="#1a1a1a" >−1</text>
<line x1="355.70" y1="315.40" x2="355.70" y2="317.90" stroke="#1c1c1c" stroke-width="1.0" />
<text x="355.70" y="325.00" font-size="6.8" text-anchor="middle" font-weight="normal" font-style="normal" fill="#1a1a1a" >0</text>
<text x="294.60" y="335.70" font-size="7.55" text-anchor="middle" font-weight="normal" font-style="normal" fill="#1a1a1a" >TCGA: BAP1 protein (Epi)</text>
<text font-size="7.4" fill="#1a1a1a" text-anchor="middle" transform="translate(196.8 258.3) rotate(-90)">TCGA: ASS1 mRNA</text>
<text x="233.3" y="207" font-size="6.8" fill="#1a1a1a"><tspan font-style="italic">r</tspan> = -0.5253</text>
<text x="233.3" y="215.3" font-size="6.8" fill="#1a1a1a"><tspan font-style="italic">P</tspan> = 0.0007</text>
<circle cx="274.90" cy="220.86" r="1.12" fill="#581a70"/>
<circle cx="279.22" cy="248.55" r="1.12" fill="#581a70"/>
<circle cx="261.34" cy="262.97" r="1.12" fill="#581a70"/>
<circle cx="271.15" cy="264.42" r="1.12" fill="#581a70"/>
<circle cx="278.65" cy="265.57" r="1.12" fill="#581a70"/>
<circle cx="254.13" cy="271.63" r="1.12" fill="#581a70"/>
<circle cx="282.97" cy="273.65" r="1.12" fill="#581a70"/>
<circle cx="264.23" cy="278.55" r="1.12" fill="#581a70"/>
<circle cx="287.88" cy="279.41" r="1.12" fill="#581a70"/>
<circle cx="308.07" cy="279.41" r="1.12" fill="#581a70"/>
<circle cx="240.86" cy="288.64" r="1.12" fill="#581a70"/>
<circle cx="256.73" cy="285.18" r="1.12" fill="#581a70"/>
<circle cx="259.03" cy="286.63" r="1.12" fill="#581a70"/>
<circle cx="267.11" cy="285.18" r="1.12" fill="#581a70"/>
<circle cx="274.90" cy="282.88" r="1.12" fill="#581a70"/>
<circle cx="265.38" cy="290.95" r="1.12" fill="#581a70"/>
<circle cx="281.53" cy="290.37" r="1.12" fill="#581a70"/>
<circle cx="277.21" cy="291.53" r="1.12" fill="#581a70"/>
<circle cx="287.30" cy="291.53" r="1.12" fill="#581a70"/>
<circle cx="299.99" cy="285.18" r="1.12" fill="#581a70"/>
<circle cx="299.41" cy="290.09" r="1.12" fill="#581a70"/>
<circle cx="286.43" cy="296.14" r="1.12" fill="#581a70"/>
<circle cx="289.90" cy="298.16" r="1.12" fill="#581a70"/>
<circle cx="299.41" cy="296.72" r="1.12" fill="#581a70"/>
<circle cx="316.72" cy="291.53" r="1.12" fill="#581a70"/>
<circle cx="326.82" cy="292.39" r="1.12" fill="#581a70"/>
<circle cx="317.30" cy="298.16" r="1.12" fill="#581a70"/>
<circle cx="272.88" cy="303.93" r="1.12" fill="#581a70"/>
<circle cx="287.30" cy="304.51" r="1.12" fill="#581a70"/>
<circle cx="307.20" cy="302.49" r="1.12" fill="#581a70"/>
<circle cx="311.53" cy="301.62" r="1.12" fill="#581a70"/>
<circle cx="330.57" cy="299.03" r="1.12" fill="#581a70"/>
<circle cx="326.24" cy="301.05" r="1.12" fill="#581a70"/>
<circle cx="339.80" cy="299.60" r="1.12" fill="#581a70"/>
<circle cx="321.91" cy="305.37" r="1.12" fill="#581a70"/>
<circle cx="318.16" cy="306.82" r="1.12" fill="#581a70"/>
<circle cx="338.35" cy="306.82" r="1.12" fill="#581a70"/>
<circle cx="353.35" cy="307.68" r="1.12" fill="#581a70"/>
<line x1="240.29" y1="269.90" x2="353.35" y2="307.68" stroke="#1c1c1c" stroke-width="1.0" />
<text x="380.00" y="190.20" font-size="11.5" text-anchor="start" font-weight="bold" font-style="normal" fill="#000" >F</text>
<line x1="427.80" y1="187.80" x2="427.80" y2="319.60" stroke="#1c1c1c" stroke-width="1.0" />
<line x1="427.80" y1="319.60" x2="503.00" y2="319.60" stroke="#1c1c1c" stroke-width="1.0" />
<line x1="425.30" y1="188.20" x2="427.80" y2="188.20" stroke="#1c1c1c" stroke-width="1.0" />
<text x="423.90" y="190.60" font-size="7.0" text-anchor="end" font-weight="normal" font-style="normal" fill="#1a1a1a" >20,000</text>
<line x1="425.30" y1="220.90" x2="427.80" y2="220.90" stroke="#1c1c1c" stroke-width="1.0" />
<text x="423.90" y="223.30" font-size="7.0" text-anchor="end" font-weight="normal" font-style="normal" fill="#1a1a1a" >15,000</text>
<line x1="425.30" y1="253.60" x2="427.80" y2="253.60" stroke="#1c1c1c" stroke-width="1.0" />
<text x="423.90" y="256.00" font-size="7.0" text-anchor="end" font-weight="normal" font-style="normal" fill="#1a1a1a" >10,000</text>
<line x1="425.30" y1="286.60" x2="427.80" y2="286.60" stroke="#1c1c1c" stroke-width="1.0" />
<text x="423.90" y="289.00" font-size="7.0" text-anchor="end" font-weight="normal" font-style="normal" fill="#1a1a1a" >5,000</text>
<line x1="425.30" y1="319.60" x2="427.80" y2="319.60" stroke="#1c1c1c" stroke-width="1.0" />
<text x="423.90" y="322.00" font-size="7.0" text-anchor="end" font-weight="normal" font-style="normal" fill="#1a1a1a" >0</text>
<line x1="449.00" y1="319.60" x2="449.00" y2="322.80" stroke="#1c1c1c" stroke-width="1.0" />
<text x="450.60" y="331.00" font-size="7.45" text-anchor="middle" font-weight="normal" font-style="normal" fill="#1a1a1a" >Normal</text>
<line x1="481.10" y1="319.60" x2="481.10" y2="322.80" stroke="#1c1c1c" stroke-width="1.0" />
<text x="482.70" y="331.00" font-size="7.45" text-anchor="middle" font-weight="normal" font-style="normal" fill="#1a1a1a" >Altered</text>
<text font-size="7.6" fill="#1a1a1a" text-anchor="middle" transform="translate(393.0 255.2) rotate(-90)">TCGA: ASS1 mRNA</text>
<line x1="450.80" y1="334.70" x2="483.10" y2="334.70" stroke="#1c1c1c" stroke-width="0.8" />
<text x="468.00" y="343.50" font-size="7.3" text-anchor="middle" font-weight="normal" font-style="normal" fill="#1a1a1a" >BAP1</text>
<line x1="449.00" y1="206.20" x2="481.10" y2="206.20" stroke="#1c1c1c" stroke-width="0.7" />
<text x="466.20" y="209.20" font-size="11" text-anchor="middle" font-weight="bold" font-style="normal" fill="#1a1a1a" >**</text>
<line x1="448.75" y1="267.50" x2="448.75" y2="312.00" stroke="#1c1c1c" stroke-width="0.8" />
<line x1="443.75" y1="267.50" x2="455.00" y2="267.50" stroke="#1c1c1c" stroke-width="0.8" />
<line x1="443.75" y1="312.00" x2="454.50" y2="312.00" stroke="#1c1c1c" stroke-width="0.8" />
<line x1="438.25" y1="289.50" x2="460.00" y2="289.50" stroke="#1c1c1c" stroke-width="0.8" />
<line x1="481.25" y1="254.25" x2="481.25" y2="298.00" stroke="#1c1c1c" stroke-width="0.8" />
<line x1="475.75" y1="254.25" x2="487.50" y2="254.25" stroke="#1c1c1c" stroke-width="0.8" />
<line x1="475.75" y1="298.00" x2="487.50" y2="298.00" stroke="#1c1c1c" stroke-width="0.8" />
<line x1="470.50" y1="276.25" x2="492.50" y2="276.25" stroke="#1c1c1c" stroke-width="0.8" stroke-dasharray="2 1.3"/>
<circle cx="448.75" cy="224.50" r="1.15" fill="#3a3a3a"/>
<circle cx="448.75" cy="236.25" r="1.15" fill="#3a3a3a"/>
<circle cx="443.75" cy="242.00" r="1.15" fill="#3a3a3a"/>
<circle cx="447.00" cy="244.25" r="1.15" fill="#3a3a3a"/>
<circle cx="451.25" cy="245.00" r="1.15" fill="#3a3a3a"/>
<circle cx="448.75" cy="253.75" r="1.15" fill="#3a3a3a"/>
<circle cx="448.75" cy="259.50" r="1.15" fill="#3a3a3a"/>
<circle cx="448.75" cy="267.00" r="1.15" fill="#3a3a3a"/>
<circle cx="445.50" cy="270.50" r="1.15" fill="#3a3a3a"/>
<circle cx="452.00" cy="270.00" r="1.15" fill="#3a3a3a"/>
<circle cx="443.75" cy="275.50" r="1.15" fill="#3a3a3a"/>
<circle cx="454.25" cy="275.50" r="1.15" fill="#3a3a3a"/>
<circle cx="447.00" cy="278.75" r="1.15" fill="#3a3a3a"/>
<circle cx="451.25" cy="278.75" r="1.15" fill="#3a3a3a"/>
<circle cx="443.75" cy="282.50" r="1.15" fill="#3a3a3a"/>
<circle cx="454.25" cy="282.00" r="1.15" fill="#3a3a3a"/>
<circle cx="441.25" cy="285.50" r="1.15" fill="#3a3a3a"/>
<circle cx="447.00" cy="285.50" r="1.15" fill="#3a3a3a"/>
<circle cx="452.50" cy="285.50" r="1.15" fill="#3a3a3a"/>
<circle cx="440.00" cy="288.75" r="1.15" fill="#3a3a3a"/>
<circle cx="443.75" cy="288.75" r="1.15" fill="#3a3a3a"/>
<circle cx="454.25" cy="288.75" r="1.15" fill="#3a3a3a"/>
<circle cx="457.50" cy="288.75" r="1.15" fill="#3a3a3a"/>
<circle cx="442.00" cy="292.00" r="1.15" fill="#3a3a3a"/>
<circle cx="447.00" cy="292.00" r="1.15" fill="#3a3a3a"/>
<circle cx="451.25" cy="292.00" r="1.15" fill="#3a3a3a"/>
<circle cx="456.25" cy="292.00" r="1.15" fill="#3a3a3a"/>
<circle cx="440.00" cy="295.00" r="1.15" fill="#3a3a3a"/>
<circle cx="443.75" cy="295.00" r="1.15" fill="#3a3a3a"/>
<circle cx="454.25" cy="295.00" r="1.15" fill="#3a3a3a"/>
<circle cx="442.00" cy="298.25" r="1.15" fill="#3a3a3a"/>
<circle cx="445.50" cy="298.25" r="1.15" fill="#3a3a3a"/>
<circle cx="451.25" cy="298.25" r="1.15" fill="#3a3a3a"/>
<circle cx="456.25" cy="298.25" r="1.15" fill="#3a3a3a"/>
<circle cx="459.50" cy="298.25" r="1.15" fill="#3a3a3a"/>
<circle cx="440.00" cy="301.25" r="1.15" fill="#3a3a3a"/>
<circle cx="443.75" cy="301.25" r="1.15" fill="#3a3a3a"/>
<circle cx="447.00" cy="301.25" r="1.15" fill="#3a3a3a"/>
<circle cx="454.25" cy="301.25" r="1.15" fill="#3a3a3a"/>
<circle cx="457.50" cy="301.25" r="1.15" fill="#3a3a3a"/>
<circle cx="440.00" cy="304.25" r="1.15" fill="#3a3a3a"/>
<circle cx="443.75" cy="304.25" r="1.15" fill="#3a3a3a"/>
<circle cx="452.50" cy="304.25" r="1.15" fill="#3a3a3a"/>
<circle cx="456.25" cy="304.25" r="1.15" fill="#3a3a3a"/>
<circle cx="459.50" cy="304.25" r="1.15" fill="#3a3a3a"/>
<circle cx="442.00" cy="307.50" r="1.15" fill="#3a3a3a"/>
<circle cx="445.50" cy="307.50" r="1.15" fill="#3a3a3a"/>
<circle cx="452.50" cy="307.50" r="1.15" fill="#3a3a3a"/>
<circle cx="456.25" cy="307.50" r="1.15" fill="#3a3a3a"/>
<circle cx="443.75" cy="310.50" r="1.15" fill="#3a3a3a"/>
<circle cx="447.00" cy="310.50" r="1.15" fill="#3a3a3a"/>
<circle cx="451.25" cy="310.50" r="1.15" fill="#3a3a3a"/>
<circle cx="454.25" cy="310.50" r="1.15" fill="#3a3a3a"/>
<circle cx="448.75" cy="313.00" r="1.15" fill="#3a3a3a"/>
<circle cx="448.75" cy="317.50" r="1.15" fill="#3a3a3a"/>
<circle cx="481.25" cy="210.50" r="1.15" fill="#3a3a3a"/>
<circle cx="481.25" cy="237.00" r="1.15" fill="#3a3a3a"/>
<circle cx="476.75" cy="246.75" r="1.15" fill="#3a3a3a"/>
<circle cx="485.50" cy="247.50" r="1.15" fill="#3a3a3a"/>
<circle cx="481.25" cy="249.50" r="1.15" fill="#3a3a3a"/>
<circle cx="485.50" cy="255.00" r="1.15" fill="#3a3a3a"/>
<circle cx="485.50" cy="261.25" r="1.15" fill="#3a3a3a"/>
<circle cx="476.75" cy="269.25" r="1.15" fill="#3a3a3a"/>
<circle cx="487.50" cy="267.50" r="1.15" fill="#3a3a3a"/>
<circle cx="478.75" cy="276.25" r="1.15" fill="#3a3a3a"/>
<circle cx="484.50" cy="274.50" r="1.15" fill="#3a3a3a"/>
<circle cx="476.75" cy="279.25" r="1.15" fill="#3a3a3a"/>
<circle cx="486.25" cy="278.75" r="1.15" fill="#3a3a3a"/>
<circle cx="487.50" cy="282.50" r="1.15" fill="#3a3a3a"/>
<circle cx="471.25" cy="285.50" r="1.15" fill="#3a3a3a"/>
<circle cx="476.75" cy="285.50" r="1.15" fill="#3a3a3a"/>
<circle cx="485.50" cy="285.50" r="1.15" fill="#3a3a3a"/>
<circle cx="490.00" cy="285.50" r="1.15" fill="#3a3a3a"/>
<circle cx="471.25" cy="288.75" r="1.15" fill="#3a3a3a"/>
<circle cx="476.75" cy="288.75" r="1.15" fill="#3a3a3a"/>
<circle cx="485.50" cy="288.75" r="1.15" fill="#3a3a3a"/>
<circle cx="490.75" cy="288.75" r="1.15" fill="#3a3a3a"/>
<circle cx="471.25" cy="292.00" r="1.15" fill="#3a3a3a"/>
<circle cx="476.75" cy="292.00" r="1.15" fill="#3a3a3a"/>
<circle cx="485.50" cy="292.00" r="1.15" fill="#3a3a3a"/>
<circle cx="490.75" cy="292.00" r="1.15" fill="#3a3a3a"/>
<circle cx="476.75" cy="295.00" r="1.15" fill="#3a3a3a"/>
<circle cx="485.50" cy="295.00" r="1.15" fill="#3a3a3a"/>
<circle cx="478.75" cy="304.25" r="1.15" fill="#3a3a3a"/>
<circle cx="483.75" cy="304.25" r="1.15" fill="#3a3a3a"/>
<text x="1.50" y="362.50" font-size="11.5" text-anchor="start" font-weight="bold" font-style="normal" fill="#000" >G</text>
<line x1="26.50" y1="359.50" x2="26.50" y2="488.10" stroke="#1c1c1c" stroke-width="1.0" />
<line x1="26.50" y1="488.10" x2="189.00" y2="488.10" stroke="#1c1c1c" stroke-width="1.0" />
<line x1="24.00" y1="359.80" x2="26.50" y2="359.80" stroke="#1c1c1c" stroke-width="1.0" />
<text x="22.80" y="362.10" font-size="6.3" text-anchor="end" font-weight="normal" font-style="normal" fill="#1a1a1a" >15</text>
<line x1="24.00" y1="402.50" x2="26.50" y2="402.50" stroke="#1c1c1c" stroke-width="1.0" />
<text x="22.80" y="404.80" font-size="6.3" text-anchor="end" font-weight="normal" font-style="normal" fill="#1a1a1a" >10</text>
<line x1="24.00" y1="445.30" x2="26.50" y2="445.30" stroke="#1c1c1c" stroke-width="1.0" />
<text x="22.80" y="447.60" font-size="6.3" text-anchor="end" font-weight="normal" font-style="normal" fill="#1a1a1a" >5</text>
<line x1="24.00" y1="488.10" x2="26.50" y2="488.10" stroke="#1c1c1c" stroke-width="1.0" />
<text x="22.80" y="490.40" font-size="6.3" text-anchor="end" font-weight="normal" font-style="normal" fill="#1a1a1a" >0</text>
<line x1="25.00" y1="488.10" x2="26.50" y2="488.10" stroke="#1c1c1c" stroke-width="0.7" />
<line x1="25.00" y1="479.55" x2="26.50" y2="479.55" stroke="#1c1c1c" stroke-width="0.7" />
<line x1="25.00" y1="471.00" x2="26.50" y2="471.00" stroke="#1c1c1c" stroke-width="0.7" />
<line x1="25.00" y1="462.45" x2="26.50" y2="462.45" stroke="#1c1c1c" stroke-width="0.7" />
<line x1="25.00" y1="453.90" x2="26.50" y2="453.90" stroke="#1c1c1c" stroke-width="0.7" />
<line x1="25.00" y1="445.35" x2="26.50" y2="445.35" stroke="#1c1c1c" stroke-width="0.7" />
<line x1="25.00" y1="436.80" x2="26.50" y2="436.80" stroke="#1c1c1c" stroke-width="0.7" />
<line x1="25.00" y1="428.25" x2="26.50" y2="428.25" stroke="#1c1c1c" stroke-width="0.7" />
<line x1="25.00" y1="419.70" x2="26.50" y2="419.70" stroke="#1c1c1c" stroke-width="0.7" />
<line x1="25.00" y1="411.15" x2="26.50" y2="411.15" stroke="#1c1c1c" stroke-width="0.7" />
<line x1="25.00" y1="402.60" x2="26.50" y2="402.60" stroke="#1c1c1c" stroke-width="0.7" />
<line x1="25.00" y1="394.05" x2="26.50" y2="394.05" stroke="#1c1c1c" stroke-width="0.7" />
<line x1="25.00" y1="385.50" x2="26.50" y2="385.50" stroke="#1c1c1c" stroke-width="0.7" />
<line x1="25.00" y1="376.95" x2="26.50" y2="376.95" stroke="#1c1c1c" stroke-width="0.7" />
<line x1="25.00" y1="368.40" x2="26.50" y2="368.40" stroke="#1c1c1c" stroke-width="0.7" />
<line x1="25.00" y1="359.85" x2="26.50" y2="359.85" stroke="#1c1c1c" stroke-width="0.7" />
<line x1="30.60" y1="488.10" x2="30.60" y2="490.40" stroke="#1c1c1c" stroke-width="1.0" />
<text x="32.40" y="494.40" font-size="5.8" text-anchor="end" font-weight="normal" font-style="normal" fill="#1a1a1a" transform="rotate(-45 32.40 494.40)" >0</text>
<rect x="30.60" y="479.55" width="2.90" height="8.55" fill="#111" stroke="none" stroke-width="0.5"/>
<line x1="39.60" y1="488.10" x2="39.60" y2="490.40" stroke="#1c1c1c" stroke-width="1.0" />
<text x="41.40" y="494.40" font-size="5.8" text-anchor="end" font-weight="normal" font-style="normal" fill="#1a1a1a" transform="rotate(-45 41.40 494.40)" >1,000</text>
<rect x="39.60" y="445.35" width="2.90" height="42.75" fill="#111" stroke="none" stroke-width="0.5"/>
<line x1="48.60" y1="488.10" x2="48.60" y2="490.40" stroke="#1c1c1c" stroke-width="1.0" />
<text x="50.40" y="494.40" font-size="5.8" text-anchor="end" font-weight="normal" font-style="normal" fill="#1a1a1a" transform="rotate(-45 50.40 494.40)" >2,000</text>
<rect x="45.75" y="471.00" width="2.60" height="17.10" fill="#cfcfcf" stroke="#222" stroke-width="0.5"/>
<rect x="48.60" y="394.05" width="2.90" height="94.05" fill="#111" stroke="none" stroke-width="0.5"/>
<line x1="57.60" y1="488.10" x2="57.60" y2="490.40" stroke="#1c1c1c" stroke-width="1.0" />
<text x="59.40" y="494.40" font-size="5.8" text-anchor="end" font-weight="normal" font-style="normal" fill="#1a1a1a" transform="rotate(-45 59.40 494.40)" >3,000</text>
<rect x="57.60" y="419.70" width="2.90" height="68.40" fill="#111" stroke="none" stroke-width="0.5"/>
<line x1="66.60" y1="488.10" x2="66.60" y2="490.40" stroke="#1c1c1c" stroke-width="1.0" />
<text x="68.40" y="494.40" font-size="5.8" text-anchor="end" font-weight="normal" font-style="normal" fill="#1a1a1a" transform="rotate(-45 68.40 494.40)" >4,000</text>
<rect x="63.75" y="419.70" width="2.60" height="68.40" fill="#cfcfcf" stroke="#222" stroke-width="0.5"/>
<rect x="66.60" y="419.70" width="2.90" height="68.40" fill="#111" stroke="none" stroke-width="0.5"/>
<line x1="75.60" y1="488.10" x2="75.60" y2="490.40" stroke="#1c1c1c" stroke-width="1.0" />
<text x="77.40" y="494.40" font-size="5.8" text-anchor="end" font-weight="normal" font-style="normal" fill="#1a1a1a" transform="rotate(-45 77.40 494.40)" >5,000</text>
<rect x="72.75" y="428.25" width="2.60" height="59.85" fill="#cfcfcf" stroke="#222" stroke-width="0.5"/>
<rect x="75.60" y="462.45" width="2.90" height="25.65" fill="#111" stroke="none" stroke-width="0.5"/>
<line x1="84.60" y1="488.10" x2="84.60" y2="490.40" stroke="#1c1c1c" stroke-width="1.0" />
<text x="86.40" y="494.40" font-size="5.8" text-anchor="end" font-weight="normal" font-style="normal" fill="#1a1a1a" transform="rotate(-45 86.40 494.40)" >6,000</text>
<rect x="81.75" y="471.00" width="2.60" height="17.10" fill="#cfcfcf" stroke="#222" stroke-width="0.5"/>
<rect x="84.60" y="453.90" width="2.90" height="34.20" fill="#111" stroke="none" stroke-width="0.5"/>
<line x1="93.60" y1="488.10" x2="93.60" y2="490.40" stroke="#1c1c1c" stroke-width="1.0" />
<text x="95.40" y="494.40" font-size="5.8" text-anchor="end" font-weight="normal" font-style="normal" fill="#1a1a1a" transform="rotate(-45 95.40 494.40)" >7,000</text>
<rect x="90.75" y="479.55" width="2.60" height="8.55" fill="#cfcfcf" stroke="#222" stroke-width="0.5"/>
<rect x="93.60" y="462.45" width="2.90" height="25.65" fill="#111" stroke="none" stroke-width="0.5"/>
<line x1="102.60" y1="488.10" x2="102.60" y2="490.40" stroke="#1c1c1c" stroke-width="1.0" />
<text x="104.40" y="494.40" font-size="5.8" text-anchor="end" font-weight="normal" font-style="normal" fill="#1a1a1a" transform="rotate(-45 104.40 494.40)" >8,000</text>
<rect x="99.75" y="471.00" width="2.60" height="17.10" fill="#cfcfcf" stroke="#222" stroke-width="0.5"/>
<rect x="102.60" y="479.55" width="2.90" height="8.55" fill="#111" stroke="none" stroke-width="0.5"/>
<line x1="111.60" y1="488.10" x2="111.60" y2="490.40" stroke="#1c1c1c" stroke-width="1.0" />
<text x="113.40" y="494.40" font-size="5.8" text-anchor="end" font-weight="normal" font-style="normal" fill="#1a1a1a" transform="rotate(-45 113.40 494.40)" >9,000</text>
<rect x="108.75" y="471.00" width="2.60" height="17.10" fill="#cfcfcf" stroke="#222" stroke-width="0.5"/>
<rect x="111.60" y="479.55" width="2.90" height="8.55" fill="#111" stroke="none" stroke-width="0.5"/>
<line x1="120.60" y1="488.10" x2="120.60" y2="490.40" stroke="#1c1c1c" stroke-width="1.0" />
<text x="122.40" y="494.40" font-size="5.8" text-anchor="end" font-weight="normal" font-style="normal" fill="#1a1a1a" transform="rotate(-45 122.40 494.40)" >10,000</text>
<rect x="117.75" y="471.00" width="2.60" height="17.10" fill="#cfcfcf" stroke="#222" stroke-width="0.5"/>
<rect x="120.60" y="479.55" width="2.90" height="8.55" fill="#111" stroke="none" stroke-width="0.5"/>
<line x1="129.60" y1="488.10" x2="129.60" y2="490.40" stroke="#1c1c1c" stroke-width="1.0" />
<text x="131.40" y="494.40" font-size="5.8" text-anchor="end" font-weight="normal" font-style="normal" fill="#1a1a1a" transform="rotate(-45 131.40 494.40)" >11,000</text>
<rect x="126.75" y="462.45" width="2.60" height="25.65" fill="#cfcfcf" stroke="#222" stroke-width="0.5"/>
<rect x="129.60" y="471.00" width="2.90" height="17.10" fill="#111" stroke="none" stroke-width="0.5"/>
<line x1="138.60" y1="488.10" x2="138.60" y2="490.40" stroke="#1c1c1c" stroke-width="1.0" />
<text x="140.40" y="494.40" font-size="5.8" text-anchor="end" font-weight="normal" font-style="normal" fill="#1a1a1a" transform="rotate(-45 140.40 494.40)" >12,000</text>
<rect x="138.60" y="479.55" width="2.90" height="8.55" fill="#111" stroke="none" stroke-width="0.5"/>
<line x1="147.60" y1="488.10" x2="147.60" y2="490.40" stroke="#1c1c1c" stroke-width="1.0" />
<text x="149.40" y="494.40" font-size="5.8" text-anchor="end" font-weight="normal" font-style="normal" fill="#1a1a1a" transform="rotate(-45 149.40 494.40)" >13,000</text>
<rect x="144.75" y="479.55" width="2.60" height="8.55" fill="#cfcfcf" stroke="#222" stroke-width="0.5"/>
<rect x="147.60" y="479.55" width="2.90" height="8.55" fill="#111" stroke="none" stroke-width="0.5"/>
<line x1="156.60" y1="488.10" x2="156.60" y2="490.40" stroke="#1c1c1c" stroke-width="1.0" />
<text x="158.40" y="494.40" font-size="5.8" text-anchor="end" font-weight="normal" font-style="normal" fill="#1a1a1a" transform="rotate(-45 158.40 494.40)" >14,000</text>
<line x1="165.60" y1="488.10" x2="165.60" y2="490.40" stroke="#1c1c1c" stroke-width="1.0" />
<text x="167.40" y="494.40" font-size="5.8" text-anchor="end" font-weight="normal" font-style="normal" fill="#1a1a1a" transform="rotate(-45 167.40 494.40)" >15,000</text>
<rect x="165.60" y="479.55" width="2.90" height="8.55" fill="#111" stroke="none" stroke-width="0.5"/>
<line x1="174.60" y1="488.10" x2="174.60" y2="490.40" stroke="#1c1c1c" stroke-width="1.0" />
<text x="176.40" y="494.40" font-size="5.8" text-anchor="end" font-weight="normal" font-style="normal" fill="#1a1a1a" transform="rotate(-45 176.40 494.40)" >16,000</text>
<line x1="183.60" y1="488.10" x2="183.60" y2="490.40" stroke="#1c1c1c" stroke-width="1.0" />
<text x="185.40" y="494.40" font-size="5.8" text-anchor="end" font-weight="normal" font-style="normal" fill="#1a1a1a" transform="rotate(-45 185.40 494.40)" >17,000</text>
<rect x="180.75" y="479.55" width="2.60" height="8.55" fill="#cfcfcf" stroke="#222" stroke-width="0.5"/>
<text font-size="7.35" fill="#1a1a1a" text-anchor="middle" transform="translate(9.1 425) rotate(-90)">Number of values</text>
<text x="102.20" y="516.60" font-size="7.6" text-anchor="middle" font-weight="normal" font-style="normal" fill="#1a1a1a" >Bin center</text>
<rect x="29.30" y="361.60" width="8.20" height="4.80" fill="#cfcfcf" stroke="#222" stroke-width="0.5"/>
<rect x="29.30" y="368.80" width="8.20" height="4.80" fill="#111" stroke="#111" stroke-width="0.5"/>
<text x="40.90" y="366.30" font-size="6.4" text-anchor="start" font-weight="normal" font-style="normal" fill="#1a1a1a" >BAP1 altered</text>
<text x="40.90" y="373.60" font-size="6.4" text-anchor="start" font-weight="normal" font-style="normal" fill="#1a1a1a" >BAP1 normal</text>
<text x="214.00" y="362.00" font-size="11.5" text-anchor="start" font-weight="bold" font-style="normal" fill="#000" >H</text>
<line x1="244.00" y1="392.80" x2="244.00" y2="486.40" stroke="#1c1c1c" stroke-width="1.0" />
<line x1="244.00" y1="486.40" x2="303.00" y2="486.40" stroke="#1c1c1c" stroke-width="1.0" />
<line x1="241.00" y1="486.40" x2="244.00" y2="486.40" stroke="#1c1c1c" stroke-width="1.0" />
<text x="239.80" y="488.90" font-size="6.9" text-anchor="end" font-weight="normal" font-style="normal" fill="#1a1a1a" >0</text>
<line x1="241.00" y1="467.72" x2="244.00" y2="467.72" stroke="#1c1c1c" stroke-width="1.0" />
<text x="239.80" y="470.22" font-size="6.9" text-anchor="end" font-weight="normal" font-style="normal" fill="#1a1a1a" >20</text>
<line x1="241.00" y1="449.04" x2="244.00" y2="449.04" stroke="#1c1c1c" stroke-width="1.0" />
<text x="239.80" y="451.54" font-size="6.9" text-anchor="end" font-weight="normal" font-style="normal" fill="#1a1a1a" >40</text>
<line x1="241.00" y1="430.36" x2="244.00" y2="430.36" stroke="#1c1c1c" stroke-width="1.0" />
<text x="239.80" y="432.86" font-size="6.9" text-anchor="end" font-weight="normal" font-style="normal" fill="#1a1a1a" >60</text>
<line x1="241.00" y1="411.68" x2="244.00" y2="411.68" stroke="#1c1c1c" stroke-width="1.0" />
<text x="239.80" y="414.18" font-size="6.9" text-anchor="end" font-weight="normal" font-style="normal" fill="#1a1a1a" >80</text>
<line x1="241.00" y1="393.00" x2="244.00" y2="393.00" stroke="#1c1c1c" stroke-width="1.0" />
<text x="239.80" y="395.50" font-size="6.9" text-anchor="end" font-weight="normal" font-style="normal" fill="#1a1a1a" >100</text>
<rect x="253.00" y="393.00" width="17.70" height="21.90" fill="#d2d2d2" stroke="#111" stroke-width="0.6"/>
<rect x="253.00" y="414.90" width="17.70" height="71.50" fill="#161616" stroke="#161616" stroke-width="0.6"/>
<rect x="280.20" y="393.00" width="17.70" height="46.70" fill="#d2d2d2" stroke="#111" stroke-width="0.6"/>
<rect x="280.20" y="439.70" width="17.70" height="46.70" fill="#161616" stroke="#161616" stroke-width="0.6"/>
<text x="261.80" y="407.00" font-size="8.6" text-anchor="middle" font-weight="normal" font-style="normal" fill="#1a1a1a" >9</text>
<text x="261.80" y="452.80" font-size="8.6" text-anchor="middle" font-weight="normal" font-style="normal" fill="#fff" class="w">29</text>
<text x="289.20" y="422.00" font-size="8.6" text-anchor="middle" font-weight="normal" font-style="normal" fill="#1a1a1a" >22</text>
<text x="289.20" y="466.00" font-size="8.6" text-anchor="middle" font-weight="normal" font-style="normal" fill="#fff" class="w">22</text>
<line x1="261.80" y1="486.40" x2="261.80" y2="488.90" stroke="#1c1c1c" stroke-width="1.0" />
<line x1="289.20" y1="486.40" x2="289.20" y2="488.90" stroke="#1c1c1c" stroke-width="1.0" />
<text x="261.80" y="498.10" font-size="8" text-anchor="middle" font-weight="normal" font-style="normal" fill="#1a1a1a" >L</text>
<text x="289.20" y="498.10" font-size="8" text-anchor="middle" font-weight="normal" font-style="normal" fill="#1a1a1a" >H</text>
<text font-size="7.9" fill="#1a1a1a" text-anchor="middle" transform="translate(224.3 436.2) rotate(-90)">Cases (%)</text>
<rect x="248.30" y="367.80" width="10.80" height="6.00" fill="#d2d2d2" stroke="#111" stroke-width="0.6"/>
<rect x="248.30" y="376.80" width="10.80" height="6.00" fill="#161616" stroke="#161616" stroke-width="0.6"/>
<text x="262.70" y="373.20" font-size="6.4" text-anchor="start" font-weight="normal" font-style="normal" fill="#1a1a1a" >BAP1 altered</text>
<text x="262.70" y="382.20" font-size="6.4" text-anchor="start" font-weight="normal" font-style="normal" fill="#1a1a1a" >BAP1 normal</text>
<text x="336.00" y="362.00" font-size="11.5" text-anchor="start" font-weight="bold" font-style="normal" fill="#000" >I</text>
<line x1="370.30" y1="372.50" x2="370.30" y2="483.70" stroke="#dcdcdc" stroke-width="0.6" />
<text x="370.30" y="492.00" font-size="6.7" text-anchor="middle" font-weight="normal" font-style="normal" fill="#1a1a1a" >0</text>
<line x1="362.20" y1="478.75" x2="521.00" y2="478.75" stroke="#dcdcdc" stroke-width="0.6" />
<text x="359.40" y="481.15" font-size="6.6" text-anchor="end" font-weight="normal" font-style="normal" fill="#1a1a1a" >0</text>
<line x1="398.60" y1="372.50" x2="398.60" y2="483.70" stroke="#dcdcdc" stroke-width="0.6" />
<text x="398.60" y="492.00" font-size="6.7" text-anchor="middle" font-weight="normal" font-style="normal" fill="#1a1a1a" >20</text>
<line x1="362.20" y1="458.65" x2="521.00" y2="458.65" stroke="#dcdcdc" stroke-width="0.6" />
<text x="359.40" y="461.05" font-size="6.6" text-anchor="end" font-weight="normal" font-style="normal" fill="#1a1a1a" >20</text>
<line x1="426.90" y1="372.50" x2="426.90" y2="483.70" stroke="#dcdcdc" stroke-width="0.6" />
<text x="426.90" y="492.00" font-size="6.7" text-anchor="middle" font-weight="normal" font-style="normal" fill="#1a1a1a" >40</text>
<line x1="362.20" y1="438.55" x2="521.00" y2="438.55" stroke="#dcdcdc" stroke-width="0.6" />
<text x="359.40" y="440.95" font-size="6.6" text-anchor="end" font-weight="normal" font-style="normal" fill="#1a1a1a" >40</text>
<line x1="455.20" y1="372.50" x2="455.20" y2="483.70" stroke="#dcdcdc" stroke-width="0.6" />
<text x="455.20" y="492.00" font-size="6.7" text-anchor="middle" font-weight="normal" font-style="normal" fill="#1a1a1a" >60</text>
<line x1="362.20" y1="418.45" x2="521.00" y2="418.45" stroke="#dcdcdc" stroke-width="0.6" />
<text x="359.40" y="420.85" font-size="6.6" text-anchor="end" font-weight="normal" font-style="normal" fill="#1a1a1a" >60</text>
<line x1="483.50" y1="372.50" x2="483.50" y2="483.70" stroke="#dcdcdc" stroke-width="0.6" />
<text x="483.50" y="492.00" font-size="6.7" text-anchor="middle" font-weight="normal" font-style="normal" fill="#1a1a1a" >80</text>
<line x1="362.20" y1="398.35" x2="521.00" y2="398.35" stroke="#dcdcdc" stroke-width="0.6" />
<text x="359.40" y="400.75" font-size="6.6" text-anchor="end" font-weight="normal" font-style="normal" fill="#1a1a1a" >80</text>
<line x1="511.80" y1="372.50" x2="511.80" y2="483.70" stroke="#dcdcdc" stroke-width="0.6" />
<text x="511.80" y="492.00" font-size="6.7" text-anchor="middle" font-weight="normal" font-style="normal" fill="#1a1a1a" >100</text>
<line x1="362.20" y1="378.25" x2="521.00" y2="378.25" stroke="#dcdcdc" stroke-width="0.6" />
<text x="359.40" y="380.65" font-size="6.6" text-anchor="end" font-weight="normal" font-style="normal" fill="#1a1a1a" >100</text>
<line x1="362.20" y1="372.50" x2="362.20" y2="483.70" stroke="#4a4a4a" stroke-width="0.9" />
<line x1="362.20" y1="483.70" x2="521.00" y2="483.70" stroke="#4a4a4a" stroke-width="0.9" />
<text x="440.90" y="500.80" font-size="7.7" text-anchor="middle" font-weight="normal" font-style="normal" fill="#1a1a1a" >Months</text>
<text font-size="7.75" fill="#1a1a1a" text-anchor="middle" transform="translate(343.0 427.7) rotate(-90)">Overall survival (%)</text>
<path d="M370.50 378.25 L372.50 378.25 L372.50 383.75 L373.75 383.75 L373.75 390.00 L374.50 390.00 L374.50 396.25 L375.50 396.25 L375.50 402.50 L376.25 402.50 L376.25 410.00 L377.00 410.00 L377.00 423.75 L379.25 423.75 L379.25 435.00 L385.50 435.00 L385.50 445.00 L387.00 445.00 L387.00 451.25 L388.25 451.25 L388.25 460.00 L389.50 460.00 L389.50 467.50 L408.25 467.50 L408.25 478.75" fill="none" stroke="#444" stroke-width="0.8" stroke-linejoin="miter"/>
<path d="M370.50 378.25 L371.45 378.25 L371.45 382.70 L373.15 382.70 L373.15 388.07 L374.70 388.07 L374.70 392.70 L376.55 392.70 L376.55 395.77 L378.55 395.77 L378.55 398.07 L381.15 398.07 L381.15 402.70 L382.70 402.70 L382.70 405.30 L389.62 405.30 L389.62 411.25 L391.25 411.25 L391.25 417.50 L392.50 417.50 L392.50 423.75 L394.50 423.75 L394.50 428.75 L396.25 428.75 L396.25 432.50 L398.75 432.50 L398.75 436.25 L401.25 436.25 L401.25 438.75 L402.50 438.75 L402.50 445.00 L404.25 445.00 L404.25 450.00 L406.25 450.00 L406.25 453.75 L408.25 453.75 L408.25 457.50 L410.50 457.50 L410.50 461.25 L413.00 461.25 L413.00 463.75 L415.00 463.75 L415.00 465.75 L428.25 465.75 L428.25 472.00 L430.00 472.00 L430.00 477.50" fill="none" stroke="#3c9a6c" stroke-width="0.8" stroke-linejoin="miter"/>
<path d="M370.50 378.25 L372.38 378.25 L372.38 383.45 L374.23 383.45 L374.23 388.07 L375.77 388.07 L375.77 392.70 L378.07 392.70 L378.07 396.55 L380.07 396.55 L380.07 401.15 L381.62 401.15 L381.62 405.77 L385.00 405.77 L385.00 411.15 L385.77 411.15 L385.77 416.55 L387.30 416.55 L387.30 421.15 L388.85 421.15 L388.85 425.00 L390.70 425.00 L390.70 429.62 L391.93 429.62 L391.93 434.50 L393.75 434.50 L393.75 438.00 L395.50 440.75 L398.00 440.75 L398.00 445.00 L401.25 445.00 L401.25 448.75 L403.75 448.75 L403.75 452.50 L406.25 452.50 L406.25 455.50 L409.50 455.50 L409.50 459.25 L480.75 459.25" fill="none" stroke="#4f86be" stroke-width="0.8" stroke-linejoin="miter"/>
<path d="M370.50 378.25 L373.00 378.25 L373.00 382.00 L376.25 382.00 L376.25 387.50 L380.00 387.50 L380.00 391.25 L383.75 391.25 L383.75 395.00 L386.25 395.00 L386.25 397.50 L388.75 397.50 L388.75 401.25 L392.00 401.25 L392.00 405.00 L394.25 405.00 L394.25 410.00 L396.25 410.00 L396.25 415.00 L402.50 415.00 L402.50 418.75 L408.25 418.75 L408.25 425.00 L410.50 425.00 L410.50 431.25 L413.00 431.25 L413.00 436.25 L415.75 436.25 L415.75 440.00 L419.50 440.00 L419.50 442.50 L423.75 442.50 L423.75 447.50 L447.50 447.50 L447.50 453.75 L449.50 453.75 L449.50 460.00 L483.75 460.00 L483.75 468.75 L500.00 468.75 L500.00 478.75" fill="none" stroke="#df5a66" stroke-width="0.8" stroke-linejoin="miter"/>
<rect x="441.40" y="380.10" width="68.10" height="34.10" fill="#fff" stroke="#555" stroke-width="0.5"/>
<path d="M444.6 387.1 h2.2 v-1.8 h1.6 h2.6" fill="none" stroke="#444" stroke-width="0.7"/>
<text x="451.4" y="387.8" font-size="5.75" fill="#1a1a1a">BAP1altered/ASS1<tspan font-size="3.4" dy="1.3">L</tspan></text>
<path d="M444.6 392.8 h2.2 v-1.8 h1.6 h2.6" fill="none" stroke="#df5a66" stroke-width="0.7"/>
<text x="451.4" y="393.5" font-size="5.75" fill="#1a1a1a">BAP1altered/ASS1<tspan font-size="3.4" dy="1.3">H</tspan></text>
<path d="M444.6 398.6 h2.2 v-1.8 h1.6 h2.6" fill="none" stroke="#3c9a6c" stroke-width="0.7"/>
<text x="451.4" y="399.3" font-size="5.75" fill="#1a1a1a">BAP1normal/ASS1<tspan font-size="3.4" dy="1.3">L</tspan></text>
<path d="M444.6 404.6 h2.2 v-1.8 h1.6 h2.6" fill="none" stroke="#4f86be" stroke-width="0.7"/>
<text x="451.4" y="405.3" font-size="5.75" fill="#1a1a1a">BAP1normal/ASS1<tspan font-size="3.4" dy="1.3">H</tspan></text>
<path d="M444.6 409.2 h6.4 M447.8 408.2 v2" fill="none" stroke="#4c8fc6" stroke-width="0.6"/>
<text x="451.40" y="411.20" font-size="5.75" text-anchor="start" font-weight="normal" font-style="normal" fill="#1a1a1a" >Censored</text>
</svg>
</body></html>
